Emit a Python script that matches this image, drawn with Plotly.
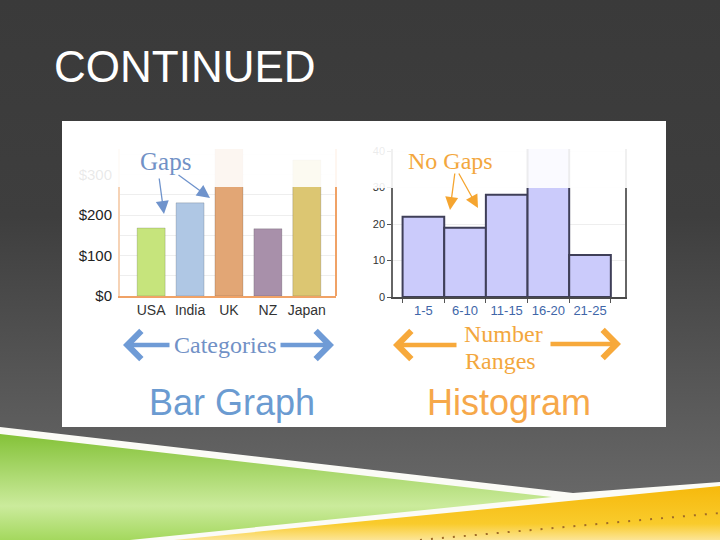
import plotly.graph_objects as go

W, H = 720, 540

# ---------------- data ----------------
countries = ["USA", "India", "UK", "NZ", "Japan"]
spend = [168, 230, 365, 166, 336]
bar_colors = ["#c6e47c", "#afc7e4", "#e2a675", "#a890aa", "#dcc672"]
bar_tickvals = [0, 50, 100, 150, 200, 250, 300, 350]
bar_ticktext = ["$0", "", "$100", "", "$200", "", "$300", ""]

bins = ["1-5", "6-10", "11-15", "16-20", "21-25"]
counts = [22, 19, 28, 42, 11.5]
hist_tickvals = [0, 10, 20, 30, 40]


def px(x):
    return x / W


def py(y):
    return 1 - y / H


fig = go.Figure()

deco = dict(xaxis="x", yaxis="y", hoverinfo="skip", showlegend=False,
            mode="lines", line=dict(width=0), fill="toself")

# slide background
fig.add_trace(go.Scatter(x=[0, 720, 720, 0, 0], y=[0, 0, 540, 540, 0],
                         fillgradient=dict(type="vertical", start=0, stop=540,
                                           colorscale=[[0, "#3a3a3a"], [0.4, "#3e3e3e"], [1, "#6e6e6e"]]),
                         **deco))
# white picture panel
fig.add_trace(go.Scatter(x=[62, 666, 666, 62, 62], y=[121, 121, 427, 427, 121],
                         fillcolor="#ffffff", **deco))
# bottom decoration
fig.add_trace(go.Scatter(x=[0, 573, 720, 720, 0, 0], y=[427, 493, 482, 540, 540, 427],
                         fillcolor="#fbfbf6", **deco))
fig.add_trace(go.Scatter(x=[0, 552, 130, 0, 0], y=[434, 497, 540, 540, 434],
                         fillgradient=dict(type="vertical",
                                           colorscale=[[0, "#a4d85e"], [0.32, "#cbeb9c"], [1, "#84c238"]]),
                         **deco))
fig.add_trace(go.Scatter(x=[174, 720, 720, 174], y=[540, 486, 540, 540],
                         fillgradient=dict(type="vertical",
                                           colorscale=[[0, "#fce596"], [0.3, "#f9cb2c"], [1, "#f6b90c"]]),
                         **deco))
fig.add_trace(go.Scatter(x=[420, 720], y=[540, 513], mode="lines", xaxis="x", yaxis="y",
                         line=dict(color="#a06c28", width=2, dash="2px,9px"),
                         hoverinfo="skip", showlegend=False))

# ---------------- bar graph ----------------
fig.add_trace(go.Bar(x=countries, y=spend, width=0.72,
                     marker=dict(color=bar_colors, line=dict(color="rgba(0,0,0,0.15)", width=1)),
                     xaxis="x2", yaxis="y2", showlegend=False, hoverinfo="skip"))

# ---------------- histogram ----------------
fig.add_trace(go.Bar(x=bins, y=counts, width=1,
                     marker=dict(color="#cbcbfb", line=dict(color="#3f3f58", width=2)),
                     xaxis="x3", yaxis="y3", showlegend=False, hoverinfo="skip"))

serif = "Liberation Serif"
sans = "Liberation Sans"
blue_txt = "#7191c6"
orange_txt = "#f3a73e"

annotations = [
    dict(text="CONTINUED", x=px(52), y=py(66), xanchor="left", yanchor="middle",
         font=dict(family=sans, size=44, color="#ffffff")),
    dict(text="Gaps", x=px(165), y=py(161), font=dict(family=serif, size=25, color=blue_txt)),
    dict(text="No Gaps", x=px(450), y=py(161), font=dict(family=serif, size=24, color=orange_txt)),
    dict(text="Categories", x=px(225), y=py(345), font=dict(family=serif, size=24, color=blue_txt)),
    dict(text="Number", x=px(503), y=py(334), font=dict(family=serif, size=24, color=orange_txt)),
    dict(text="Ranges", x=px(500), y=py(361), font=dict(family=serif, size=24, color=orange_txt)),
    dict(text="Bar Graph", x=px(232), y=py(402), font=dict(family=sans, size=36, color="#6b9bd1")),
    dict(text="Histogram", x=px(509), y=py(402), font=dict(family=sans, size=36, color="#f6a84a")),
]
for a in annotations:
    a.update(xref="paper", yref="paper", showarrow=False)
    a.setdefault("xanchor", "center")
    a.setdefault("yanchor", "middle")

arrows = [
    # head x, head y, tail dx, tail dy, color, width, size, head style
    (164, 214, -5, -37, "#6f93cc", 1.3, 2.0, 2),
    (210, 198, -33, -24, "#6f93cc", 1.3, 2.0, 2),
    (450, 210, 5, -38, "#f5a530", 1.3, 2.0, 2),
    (478, 208, -20, -36, "#f5a530", 1.3, 2.0, 2),
    (123, 345, 48, 0, "#6f9bd6", 4.5, 1.2, 4),
    (334, 345, -55, 0, "#6f9bd6", 4.5, 1.2, 4),
    (393, 345, 65, 0, "#f7a93b", 4.5, 1.2, 4),
    (621, 344, -72, 0, "#f7a93b", 4.5, 1.2, 4),
]
for hx, hy, dx, dy, col, w, s, hd in arrows:
    annotations.append(dict(text="", x=px(hx), y=py(hy), xref="paper", yref="paper",
                            ax=dx, ay=dy, showarrow=True, arrowhead=hd, arrowsize=s,
                            arrowwidth=w, arrowcolor=col, standoff=0, startstandoff=0))

shapes = [
    dict(type="line", xref="x2 domain", yref="y2 domain", x0=1, x1=1, y0=0, y1=1,
         line=dict(color="#f0a266", width=2), layer="above"),
    dict(type="rect", xref="paper", yref="paper", x0=px(66), x1=px(345), y0=py(187), y1=py(138),
         fillcolor="rgba(255,255,255,0.9)", line=dict(width=0), layer="above"),
    dict(type="rect", xref="paper", yref="paper", x0=px(355), x1=px(640), y0=py(188), y1=py(138),
         fillcolor="rgba(255,255,255,0.9)", line=dict(width=0), layer="above"),
]

fig.update_layout(
    width=W, height=H, margin=dict(l=0, r=0, t=0, b=0, pad=0, autoexpand=False),
    paper_bgcolor="#3a3a3a", plot_bgcolor="rgba(0,0,0,0)",
    showlegend=False,
    xaxis=dict(domain=[0, 1], range=[0, 720], visible=False, fixedrange=True, automargin=False),
    yaxis=dict(domain=[0, 1], range=[540, 0], visible=False, fixedrange=True, automargin=False),
    xaxis2=dict(domain=[px(120), px(336)], anchor="y2", type="category", range=[-0.8, 4.75],
                showline=True, linecolor="#f0a266", linewidth=2, ticks="", showgrid=False,
                tickangle=0, automargin=False,
                tickfont=dict(family=sans, size=14, color="#333333")),
    yaxis2=dict(domain=[py(296), py(149)], anchor="x2", range=[0, 363], automargin=False,
                tickvals=bar_tickvals, ticktext=bar_ticktext, showgrid=True, gridcolor="#eeeeee",
                showline=True, linecolor="#f6d3b6", linewidth=2, zeroline=False, ticks="",
                ticklabelstandoff=3,
                tickfont=dict(family=sans, size=15, color="#222222")),
    xaxis3=dict(domain=[px(393), px(625)], anchor="y3", type="category", range=[-0.73, 4.84],
                showline=True, linecolor="#4a4a4a", linewidth=2, ticks="outside", tickson="boundaries",
                ticklen=4, tickcolor="#555555", showgrid=False, tickangle=0, automargin=False,
                tickfont=dict(family=sans, size=13, color="#4066a8")),
    yaxis3=dict(domain=[py(297), py(149)], anchor="x3", range=[0, 40.55], automargin=False,
                tickvals=hist_tickvals, showgrid=True, gridcolor="#eeeeee",
                showline=True, mirror=True, linecolor="#666666", linewidth=1.5,
                ticks="outside", ticklen=4, tickcolor="#555555", zeroline=False,
                tickfont=dict(family=sans, size=11, color="#333333")),
    annotations=annotations,
    shapes=shapes,
)

fig.write_html("out.html", config={"displayModeBar": False},
               post_script="document.body.style.margin='0';document.body.style.background='#3a3a3a';")
